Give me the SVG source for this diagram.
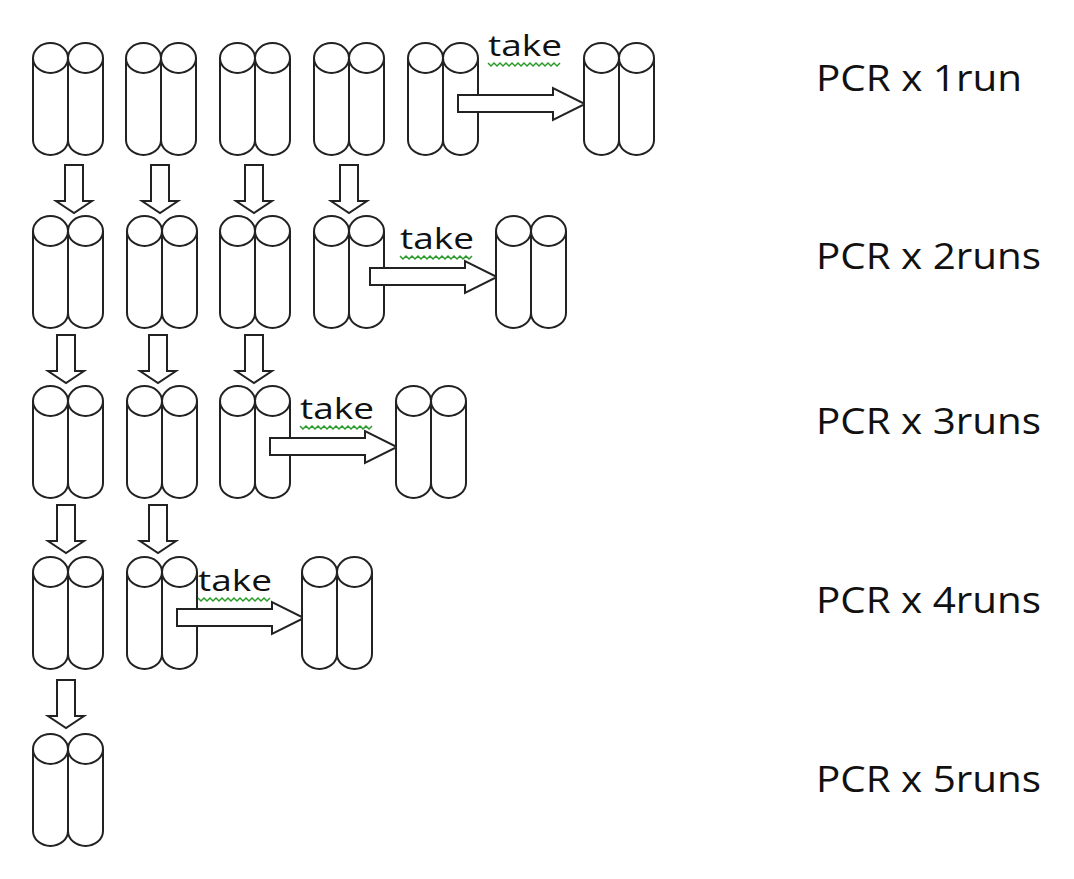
<svg xmlns="http://www.w3.org/2000/svg" xmlns:xlink="http://www.w3.org/1999/xlink" width="1074" height="879" viewBox="0 0 1074 879">
<style>
.s{fill:#fff;stroke:#222;stroke-width:2}
.lbl{font-family:"Open Sans","Liberation Sans",sans-serif;font-size:37px;fill:#111}
.tk{font-family:"Open Sans","Liberation Sans",sans-serif;font-size:30px;fill:#111}
.wv{fill:none;stroke:#2a9a2a;stroke-width:1.5}
</style>
<defs>
<g id="cyl"><path class="s" d="M0,15 V97 A17.5,15 0 0 0 35,97 V15"/><ellipse class="s" cx="17.5" cy="15" rx="17.5" ry="15"/></g>
<g id="pair"><use xlink:href="#cyl"/><use xlink:href="#cyl" x="35"/></g>
<path id="down" class="s" d="M-9,0 H9 V36 H18 L0,48 L-18,36 H-9 Z"/>
<path id="wave" class="wv" d="M0,0 l3,3 l3,-3 l3,3 l3,-3 l3,3 l3,-3 l3,3 l3,-3 l3,3 l3,-3 l3,3 l3,-3 l3,3 l3,-3 l3,3 l3,-3 l3,3 l3,-3 l3,3 l3,-3 l3,3 l3,-3 l3,3 l3,-3"/>
</defs>
<g id="connectors">
<use xlink:href="#down" x="74" y="165"/><use xlink:href="#down" x="160" y="165"/><use xlink:href="#down" x="254" y="165"/><use xlink:href="#down" x="349" y="165"/>
<use xlink:href="#down" x="66" y="335"/><use xlink:href="#down" x="158" y="335"/><use xlink:href="#down" x="254" y="335"/>
<use xlink:href="#down" x="66" y="505"/><use xlink:href="#down" x="158" y="505"/>
<use xlink:href="#down" x="66" y="680"/>
</g>
<g id="row1">
<use xlink:href="#pair" x="33" y="43"/><use xlink:href="#pair" x="126" y="43"/><use xlink:href="#pair" x="220" y="43"/><use xlink:href="#pair" x="314" y="43"/><use xlink:href="#pair" x="408" y="43"/>
<path class="s" d="M458,95 H553 V88 L585,104 L553,120 V112 H458 Z"/>
<use xlink:href="#pair" x="584" y="43"/>
<text class="tk" x="488" y="56" textLength="74" lengthAdjust="spacingAndGlyphs">take</text><use xlink:href="#wave" x="488" y="63"/>
<text class="lbl" x="816" y="91" textLength="206" lengthAdjust="spacingAndGlyphs">PCR x 1run</text>
</g>
<g id="row2">
<use xlink:href="#pair" x="33" y="216"/><use xlink:href="#pair" x="127" y="216"/><use xlink:href="#pair" x="220" y="216"/><use xlink:href="#pair" x="314" y="216"/>
<path class="s" d="M370,268 H465 V261 L497,277 L465,293 V285 H370 Z"/>
<use xlink:href="#pair" x="496" y="216"/>
<text class="tk" x="400" y="249" textLength="74" lengthAdjust="spacingAndGlyphs">take</text><use xlink:href="#wave" x="400" y="256"/>
<text class="lbl" x="816" y="269" textLength="225" lengthAdjust="spacingAndGlyphs">PCR x 2runs</text>
</g>
<g id="row3">
<use xlink:href="#pair" x="33" y="386"/><use xlink:href="#pair" x="127" y="386"/><use xlink:href="#pair" x="220" y="386"/>
<path class="s" d="M270,438 H365 V431 L397,447 L365,463 V455 H270 Z"/>
<use xlink:href="#pair" x="396" y="386"/>
<text class="tk" x="300" y="419" textLength="74" lengthAdjust="spacingAndGlyphs">take</text><use xlink:href="#wave" x="300" y="426"/>
<text class="lbl" x="816" y="434" textLength="225" lengthAdjust="spacingAndGlyphs">PCR x 3runs</text>
</g>
<g id="row4">
<use xlink:href="#pair" x="33" y="557"/><use xlink:href="#pair" x="127" y="557"/>
<path class="s" d="M177,609 H272 V602 L304,618 L272,634 V626 H177 Z"/>
<use xlink:href="#pair" x="302" y="557"/>
<text class="tk" x="198" y="591" textLength="74" lengthAdjust="spacingAndGlyphs">take</text><use xlink:href="#wave" x="198" y="598"/>
<text class="lbl" x="816" y="613" textLength="225" lengthAdjust="spacingAndGlyphs">PCR x 4runs</text>
</g>
<g id="row5">
<use xlink:href="#pair" x="33" y="734"/>
<text class="lbl" x="816" y="792" textLength="225" lengthAdjust="spacingAndGlyphs">PCR x 5runs</text>
</g>
</svg>
